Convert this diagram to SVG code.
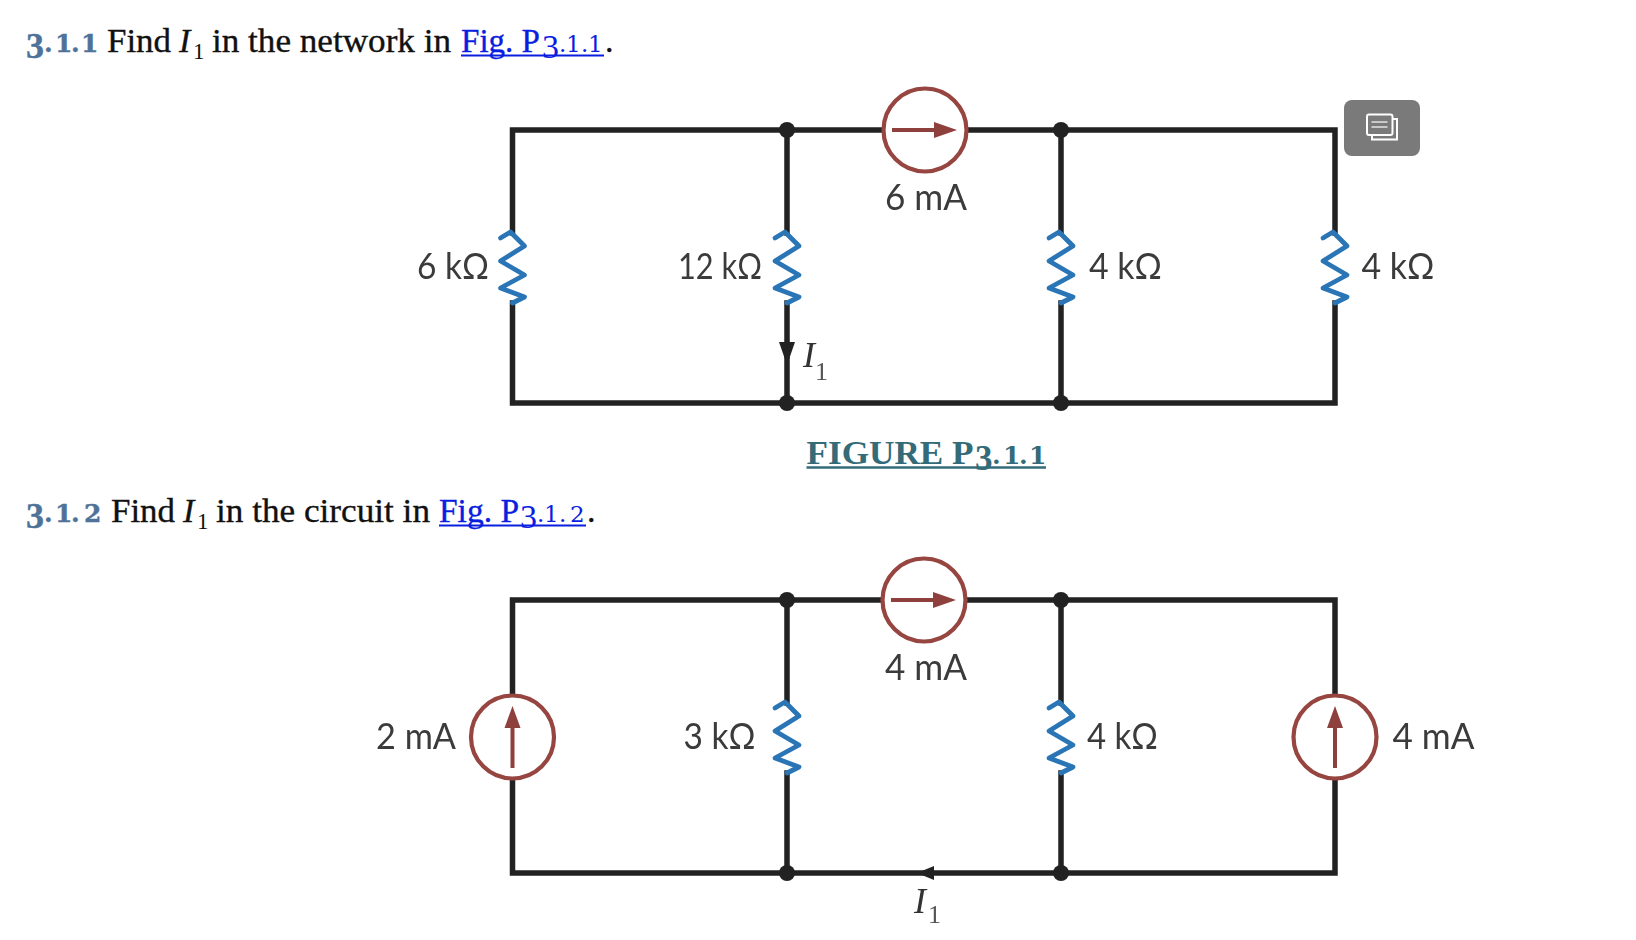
<svg xmlns="http://www.w3.org/2000/svg" xmlns:xlink="http://www.w3.org/1999/xlink" width="1636" height="940" viewBox="0 0 1636 940">
<style>
text{font-family:"Liberation Serif","Times New Roman",serif;fill:#111}
.h{font-size:34px;stroke:#111;stroke-width:.35px}
.num{fill:#4f7398;font-weight:bold;stroke:#4f7398;stroke-width:.4px}
.big{font-family:"Liberation Serif",serif;font-size:36px}
.small{font-family:"DejaVu Serif",serif;font-size:25px}
.lk{font-size:23px}
.link .h{fill:#0a1ee0;stroke:#0a1ee0}
.link text{fill:#0a1ee0}
.fig{fill:#336b78;font-weight:bold}
.lab{font-family:Lato,"Open Sans",sans-serif;font-size:37px;fill:#3a3a3a}
.cur{font-size:36px;font-style:italic;fill:#333}
.sub{font-size:26px;fill:#555}
.w{fill:none;stroke:#222;stroke-width:5.500;stroke-linecap:square;stroke-linejoin:miter}
.res{fill:none;stroke:#2b75b6;stroke-width:4.800;stroke-linejoin:round;stroke-linecap:round}
.ring{fill:#fff;stroke:#96443f;stroke-width:4.200}
.sh{stroke:#8e3f3d;stroke-width:4;fill:none}
.ah{fill:#8e3f3d}
.dot{fill:#222}
.blk{fill:#222}
.soft{filter:url(#b)}
</style>
<defs>
<filter id="b" x="-5%" y="-5%" width="110%" height="110%"><feGaussianBlur stdDeviation="0.7"/></filter>
<path id="zig" class="res" d="M-12 6 L-2 0 L12 14 L-12 29 L12 43 L-12 56 L12 65 L0 71"/>
<g id="srcH"><circle class="ring" r="41.500"/><path class="sh" d="M-33 0H12"/><path class="ah" d="M9 -8L32 0L9 8Z"/></g>
<g id="srcV"><circle class="ring" r="41.500"/><path class="sh" d="M0 31V-12"/><path class="ah" d="M-8 -9L0 -31L8 -9Z"/></g>
</defs>
<rect width="1636" height="940" fill="#fff"/>

<g id="heading1">
<text class="num"><tspan class="big" x="26" y="58">3</tspan><tspan class="small" x="44" y="52">.</tspan><tspan class="small" x="55" y="52">1</tspan><tspan class="small" x="71" y="52">.</tspan><tspan class="small" x="81" y="52">1</tspan></text>
<text class="h" x="107" y="52" textLength="64" lengthAdjust="spacingAndGlyphs">Find</text>
<text class="h" x="179" y="52" font-style="italic">I</text>
<text x="193" y="59" font-size="23">1</text>
<text class="h" x="212" y="52" textLength="239" lengthAdjust="spacingAndGlyphs">in the network in</text>
<g class="link"><text class="h" x="461" y="52" textLength="79" lengthAdjust="spacingAndGlyphs">Fig. P</text>
<text><tspan font-size="34" x="542" y="58">3</tspan><tspan class="small lk" x="559" y="52">.</tspan><tspan class="small lk" x="566" y="52">1</tspan><tspan class="small lk" x="581" y="52">.</tspan><tspan class="small lk" x="588" y="52">1</tspan></text>
<path d="M461 55.500H604" stroke="#0a1ee0" stroke-width="2" fill="none"/></g>
<text class="h" x="605" y="52">.</text>
</g>

<g id="heading2">
<text class="num"><tspan class="big" x="26" y="528">3</tspan><tspan class="small" x="44" y="522">.</tspan><tspan class="small" x="55" y="522">1</tspan><tspan class="small" x="71" y="522">.</tspan><tspan class="small" x="84" y="522">2</tspan></text>
<text class="h" x="111" y="522" textLength="64" lengthAdjust="spacingAndGlyphs">Find</text>
<text class="h" x="183" y="522" font-style="italic">I</text>
<text x="197" y="529" font-size="23">1</text>
<text class="h" x="216" y="522" textLength="214" lengthAdjust="spacingAndGlyphs">in the circuit in</text>
<g class="link"><text class="h" x="439" y="522" textLength="80" lengthAdjust="spacingAndGlyphs">Fig. P</text>
<text><tspan font-size="34" x="520" y="528">3</tspan><tspan class="small lk" x="537" y="522">.</tspan><tspan class="small lk" x="544" y="522">1</tspan><tspan class="small lk" x="559" y="522">.</tspan><tspan class="small lk" x="570" y="522">2</tspan></text>
<path d="M439 525.500H586" stroke="#0a1ee0" stroke-width="2" fill="none"/></g>
<text class="h" x="587" y="522">.</text>
</g>

<g id="caption">
<text class="fig" x="806.500" y="464" font-size="33" textLength="167" lengthAdjust="spacingAndGlyphs">FIGURE P</text>
<text class="fig"><tspan font-size="35" x="975" y="470">3</tspan><tspan class="small" x="992" y="464">.</tspan><tspan class="small" x="1003" y="464">1</tspan><tspan class="small" x="1019" y="464">.</tspan><tspan class="small" x="1029" y="464">1</tspan></text>
<path d="M806.500 467.500H1046" stroke="#336b78" stroke-width="2.500" fill="none"/>
</g>

<g class="soft">
<g id="connectors1">
<path class="w" d="M512.500 233V130H884M966 130H1335V233M512.500 303V403H1335V303"/>
<path class="w" d="M787 130V233M787 303V403M1061 130V233M1061 303V403"/>
<path class="blk" d="M779 342H795L787 365Z"/>
<circle class="dot" cx="787" cy="130" r="8"/><circle class="dot" cx="1061" cy="130" r="8"/>
<circle class="dot" cx="787" cy="403" r="8"/><circle class="dot" cx="1061" cy="403" r="8"/>
</g>
<g id="r1"><use href="#zig" xlink:href="#zig" transform="translate(512.500 232)"/><text class="lab" x="417" y="279" textLength="72" lengthAdjust="spacingAndGlyphs">6 kΩ</text></g>
<g id="r2"><use href="#zig" xlink:href="#zig" transform="translate(787 232)"/><text class="lab" x="678" y="279" textLength="84" lengthAdjust="spacingAndGlyphs">12 kΩ</text></g>
<g id="r3"><use href="#zig" xlink:href="#zig" transform="translate(1061 232)"/><text class="lab" x="1089" y="279" textLength="73" lengthAdjust="spacingAndGlyphs">4 kΩ</text></g>
<g id="r4"><use href="#zig" xlink:href="#zig" transform="translate(1335 232)"/><text class="lab" x="1361.500" y="279" textLength="73" lengthAdjust="spacingAndGlyphs">4 kΩ</text></g>
<g id="s1"><use href="#srcH" xlink:href="#srcH" transform="translate(925 130)"/><text class="lab" x="885" y="210" textLength="82" lengthAdjust="spacingAndGlyphs">6 mA</text></g>
<g id="i1a"><text class="cur" x="803" y="367">I</text><text class="sub" x="815" y="380">1</text></g>

<g id="connectors2">
<path class="w" d="M512.500 696V600H884M966 600H1335V696M512.500 778V873H1335V778"/>
<path class="w" d="M787 600V703M787 773V873M1061 600V703M1061 773V873"/>
<path class="blk" d="M917 873L934 866V880Z"/>
<circle class="dot" cx="787" cy="600" r="8"/><circle class="dot" cx="1061" cy="600" r="8"/>
<circle class="dot" cx="787" cy="873" r="8"/><circle class="dot" cx="1061" cy="873" r="8"/>
</g>
<g id="s2"><use href="#srcV" xlink:href="#srcV" transform="translate(512.500 737)"/><text class="lab" x="376" y="749" textLength="80" lengthAdjust="spacingAndGlyphs">2 mA</text></g>
<g id="r5"><use href="#zig" xlink:href="#zig" transform="translate(787 702)"/><text class="lab" x="683.500" y="749" textLength="72" lengthAdjust="spacingAndGlyphs">3 kΩ</text></g>
<g id="s3"><use href="#srcH" xlink:href="#srcH" transform="translate(924 600)"/><text class="lab" x="885" y="680" textLength="82" lengthAdjust="spacingAndGlyphs">4 mA</text></g>
<g id="r6"><use href="#zig" xlink:href="#zig" transform="translate(1061 702)"/><text class="lab" x="1087" y="749" textLength="71" lengthAdjust="spacingAndGlyphs">4 kΩ</text></g>
<g id="s4"><use href="#srcV" xlink:href="#srcV" transform="translate(1335 737)"/><text class="lab" x="1392.500" y="749" textLength="82" lengthAdjust="spacingAndGlyphs">4 mA</text></g>
<g id="i1b"><text class="cur" x="914" y="913">I</text><text class="sub" x="928" y="923">1</text></g>
</g>

<g id="copy-button">
<rect x="1344" y="100" width="76" height="56" rx="8" fill="#7a7a7a"/>
<path d="M1372 135V139.500H1397V119H1392.500" fill="none" stroke="#fff" stroke-width="2"/>
<rect x="1367" y="114.500" width="25.500" height="20.500" rx="2" fill="none" stroke="#fff" stroke-width="2"/>
<path d="M1371.500 122H1387.500M1371.500 127H1387.500" stroke="#e4e4e4" stroke-width="1.500"/>
</g>
</svg>
